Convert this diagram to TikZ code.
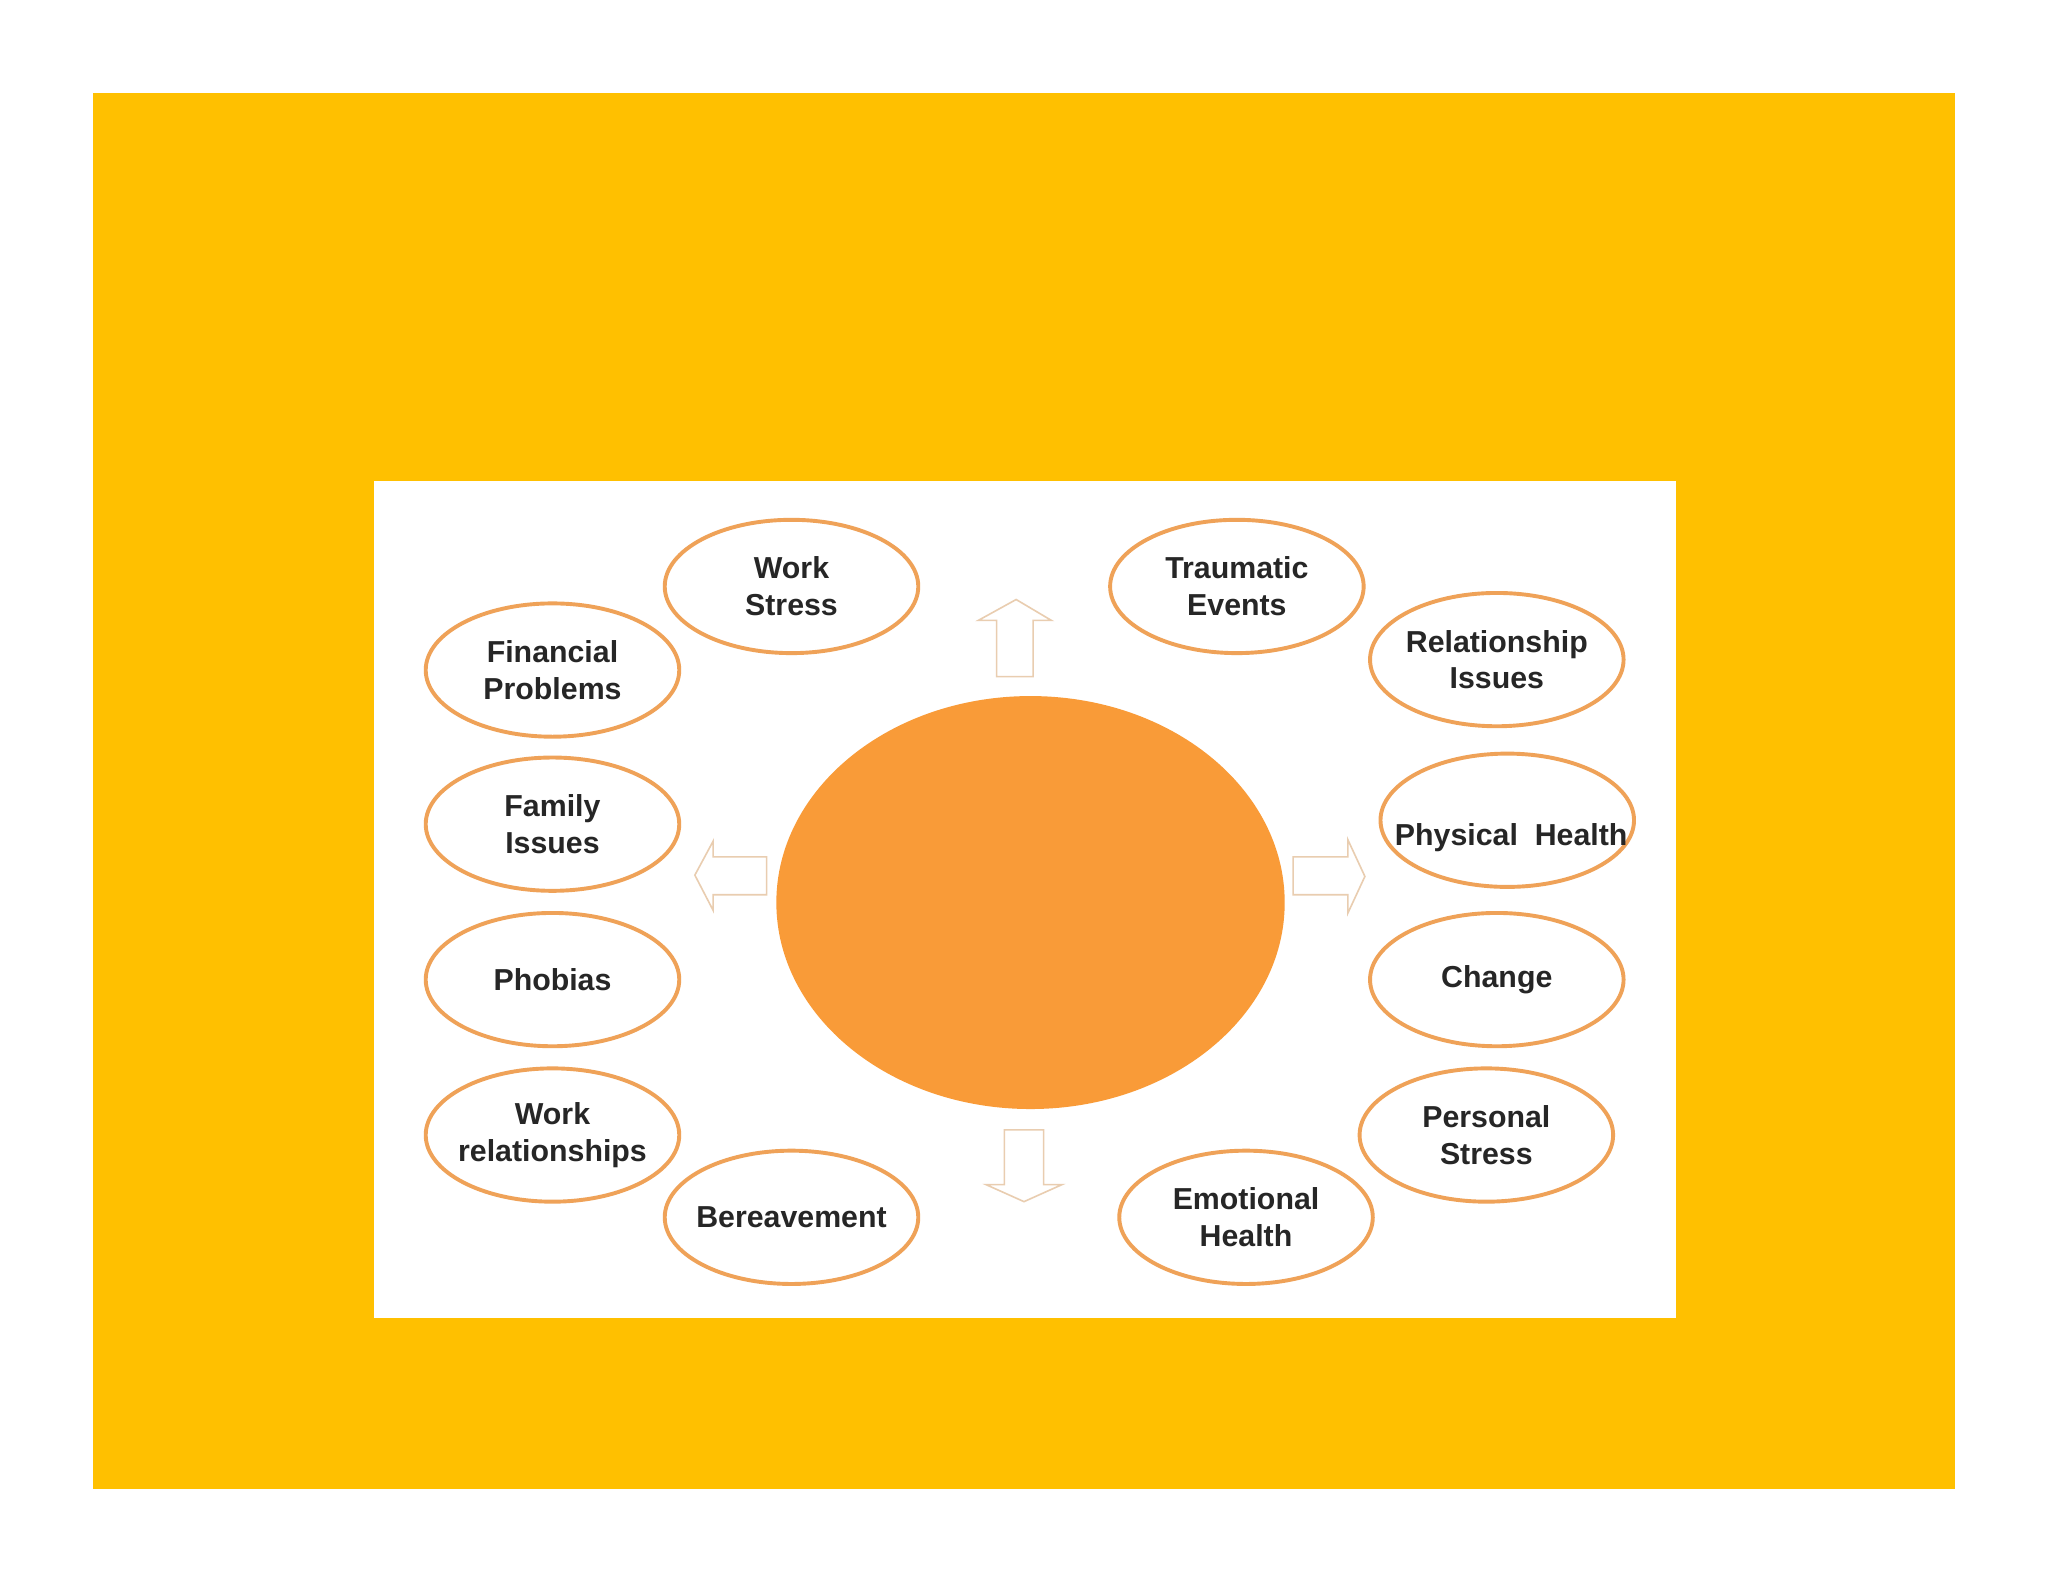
\documentclass[tikz,border=0pt]{standalone}
\usepackage{fontspec}
\setmainfont{Liberation Sans}
\usetikzlibrary{shapes.geometric}
\definecolor{bgyellow}{HTML}{FFC000}
\definecolor{bigorange}{HTML}{F99B38}
\definecolor{ringcol}{HTML}{EFA258}
\definecolor{arrowcol}{HTML}{E9CDB0}
\tikzset{
  bubble/.style={ellipse, draw=ringcol, line width=0.85pt, fill=white,
    minimum width=1.94cm, minimum height=1.02cm, inner xsep=-0.3cm, inner ysep=-0.1cm, align=center,
    font=\fontsize{6.6}{8}\selectfont\bfseries, text=black!85},
  hollowarrow/.style={draw=arrowcol, line width=0.35pt, fill=white, line join=miter}
}
\begin{document}
\begin{tikzpicture}[x=0.01cm, y=-0.01cm]
\useasboundingbox (0,0) rectangle (1568,1211);
\fill[white] (0,0) rectangle (1568,1211);
\fill[bgyellow] (71,71) rectangle (1497,1140);
\fill[white] (286,368) rectangle (1283,1009);
% central circle
\node[ellipse, fill=bigorange, minimum width=3.89cm, minimum height=3.16cm, inner sep=0pt] (core) at (789,691) {};
% hollow arrows
\draw[hollowarrow] (763,518) -- (763,475) -- (749,475) -- (778,459) -- (805,475) -- (791,475) -- (791,518) -- cycle;
\draw[hollowarrow] (587,656) -- (546,656) -- (546,644) -- (532,670) -- (546,697) -- (546,685) -- (587,685) -- cycle;
\draw[hollowarrow] (990,656) -- (1032,656) -- (1032,643) -- (1045,671) -- (1032,699) -- (1032,685) -- (990,685) -- cycle;
\draw[hollowarrow] (769,865) -- (769,907) -- (755,907) -- (784,920) -- (813,907) -- (799,907) -- (799,865) -- cycle;
% bubbles
\node[bubble] (ws) at (606,449) {Work\\Stress};
\node[bubble] (te) at (947,449) {Traumatic\\Events};
\node[bubble] (fp) at (423,513) {Financial\\Problems};
\node[bubble] (ri) at (1146,505) {Relationship\\Issues};
\node[bubble] (fi) at (423,631) {Family\\Issues};
\node[bubble] (ph) at (1154,628) {};
\node[font=\fontsize{6.6}{8}\selectfont\bfseries, text=black!85] (phl) at (1157,641) {Physical\ \ Health};
\node[bubble] (pb) at (423,750) {Phobias};
\node[bubble] (ch) at (1146,750) {Change};
\node[bubble] (wr) at (423,869) {Work\\relationships};
\node[bubble] (ps) at (1138,869) {Personal\\Stress};
\node[bubble] (br) at (606,932) {Bereavement};
\node[bubble] (eh) at (954,932) {Emotional\\Health};
\end{tikzpicture}
\end{document}
